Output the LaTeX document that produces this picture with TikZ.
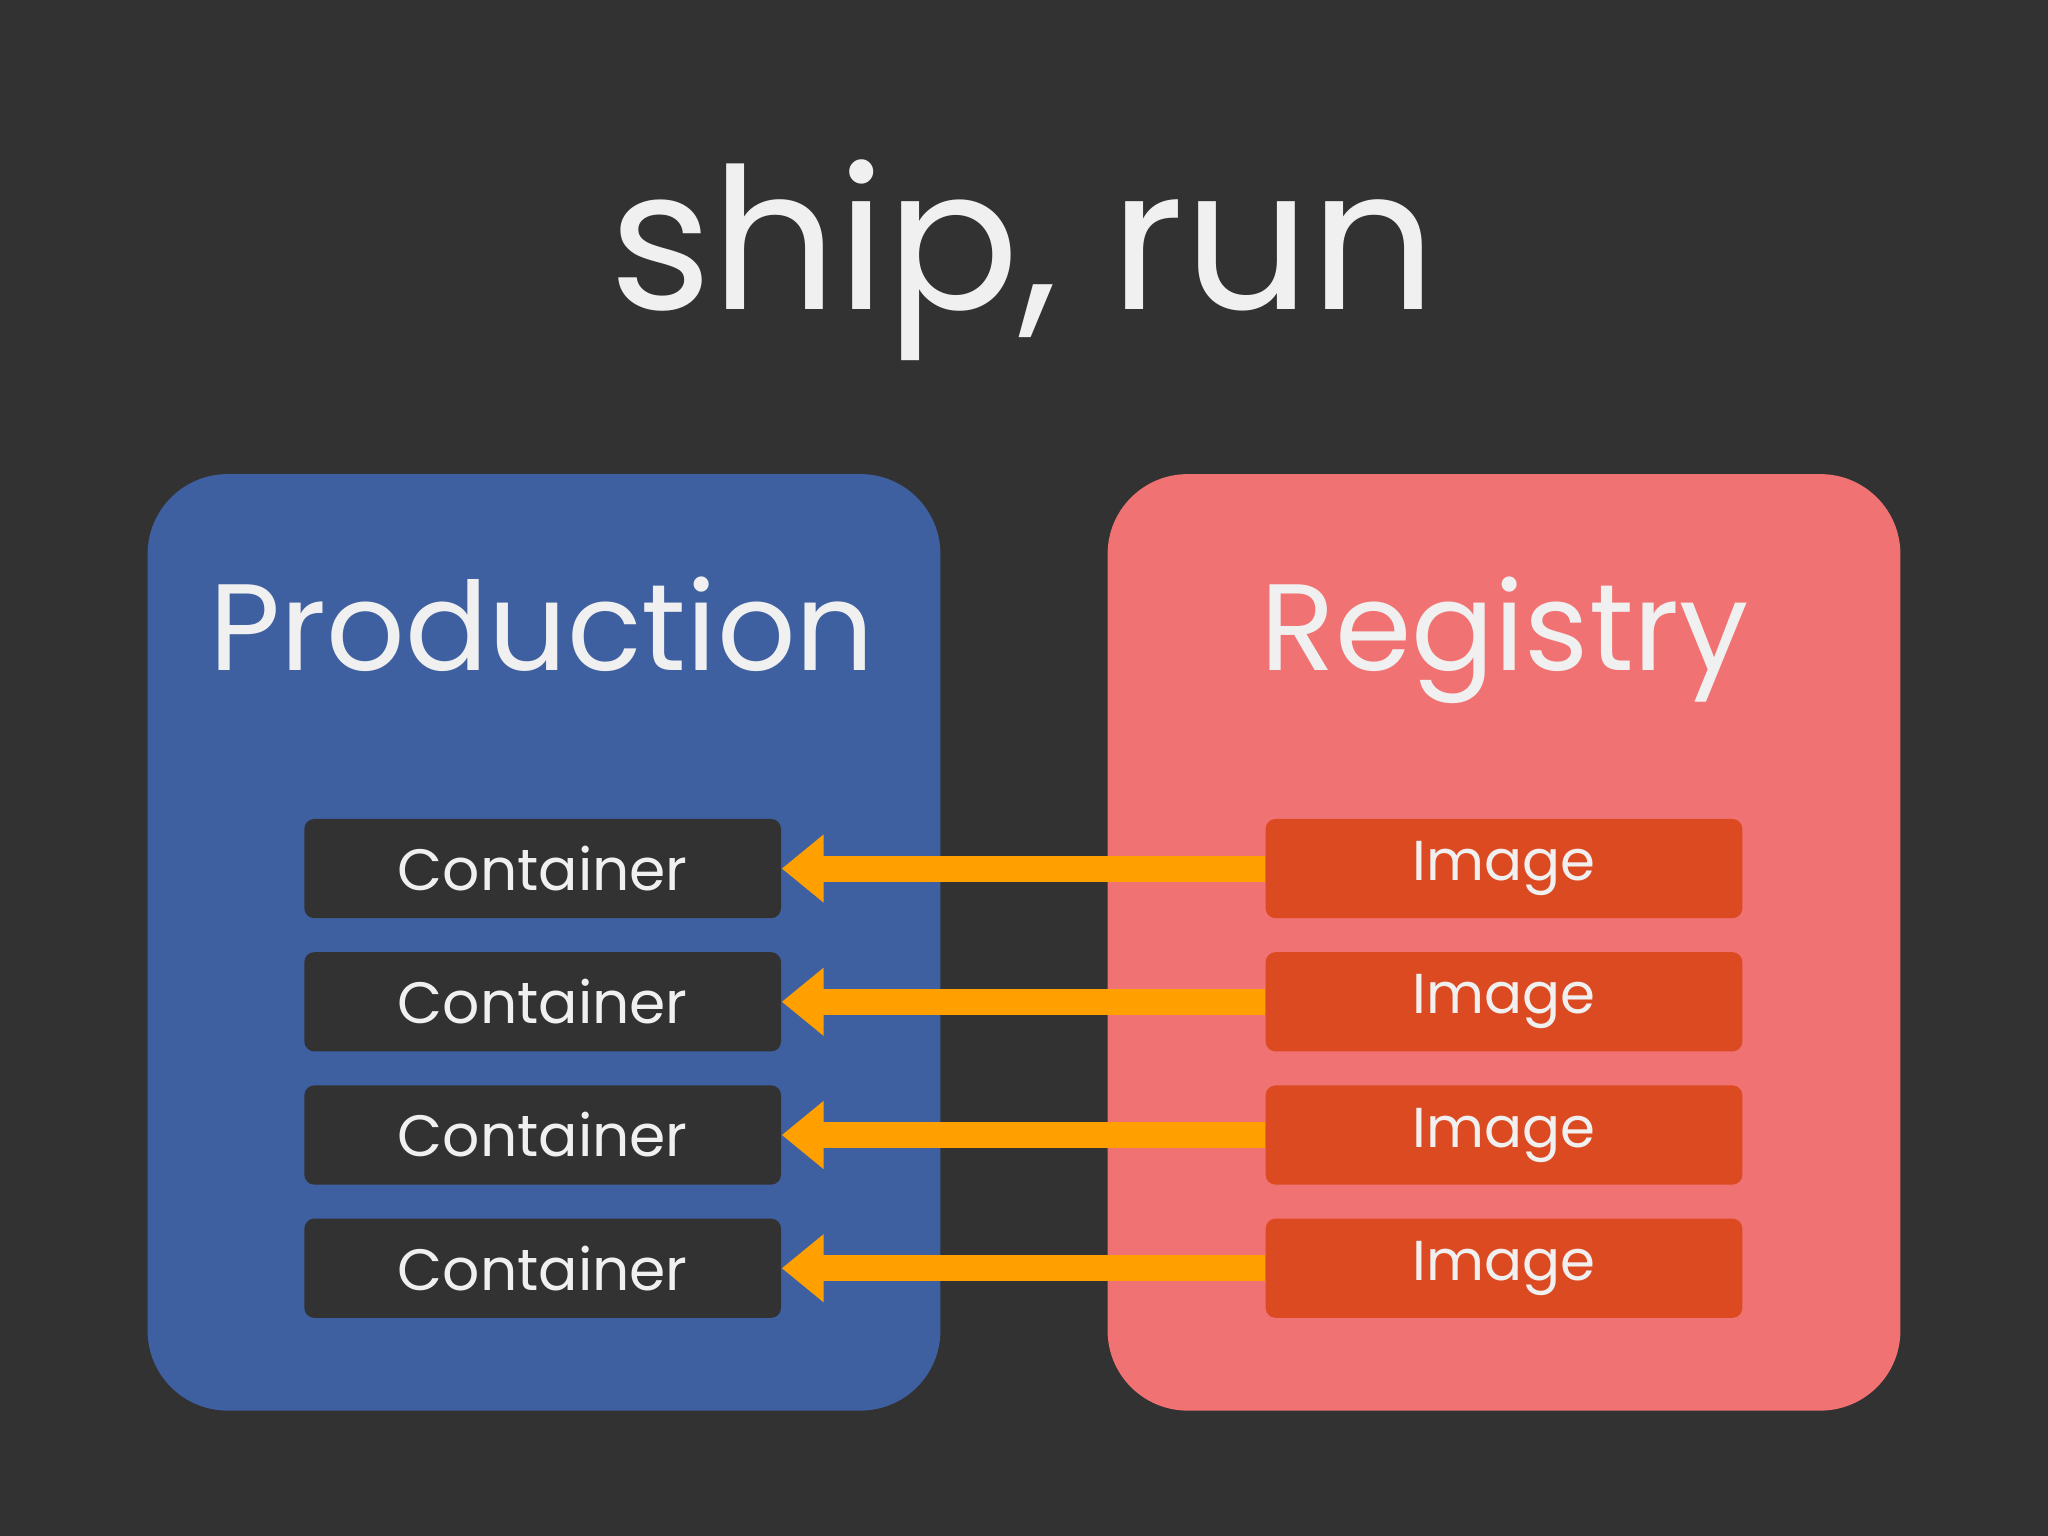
\documentclass[tikz,border=0pt]{standalone}
\usepackage{fontspec}
\setmainfont{Poppins}
\usetikzlibrary{arrows.meta}
\definecolor{bg}{HTML}{323232}
\definecolor{prod}{HTML}{3F60A0}
\definecolor{reg}{HTML}{F07272}
\definecolor{img}{HTML}{DC4A22}
\definecolor{arr}{HTML}{FFA000}
\definecolor{txt}{HTML}{F0F0F0}
\begin{document}
\begin{tikzpicture}[x=0.01306cm,y=-0.01306cm,
  panel/.style={rounded corners=0.8cm},
  item/.style={rounded corners=0.1cm,minimum width=365*0.01306cm,minimum height=76*0.01306cm,inner sep=0,text=txt},
  ar/.style={draw=arr,line width=20*0.3717pt,-{Triangle[length=32*0.3717pt,width=50*0.3717pt]}}]
\fill[bg] (0,0) rectangle (1568,1176);
\useasboundingbox (0,0) rectangle (1568,1176);
\node[text=txt,anchor=base,font=\fontsize{56}{60}\selectfont] (title) at (783,237) {ship, run};
\fill[prod,panel] (113,363) rectangle (720,1080);
\fill[reg,panel] (848,363) rectangle (1455,1080);
\node[text=txt,anchor=base,font=\fontsize{35}{40}\selectfont] (p) at (415,513) {Production};
\node[text=txt,anchor=base,font=\fontsize{35}{40}\selectfont] (r) at (1152,513) {Registry};
\foreach \i/\y in {1/665,2/767,3/869,4/971}{
  \node[item,fill=bg,font=\fontsize{16.6}{20}\selectfont] (c\i) at (415.5,\y) {Container};
  \node[item,fill=img,font=\fontsize{16}{20}\selectfont] (m\i) at (1151.5,\y) {Image};
  \draw[ar] (m\i.west) -- (c\i.east);
}
\end{tikzpicture}
\end{document}
